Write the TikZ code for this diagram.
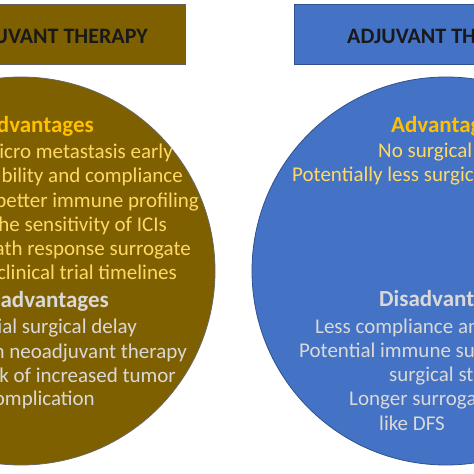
\documentclass[tikz,border=0pt]{standalone}
\usepackage{fontspec}
\setmainfont{Carlito}
\usepackage{xcolor}
\definecolor{neoBrown}{HTML}{7F6000}
\definecolor{adjBlue}{HTML}{4472C4}
\definecolor{adjLine}{HTML}{2F528F}
\definecolor{boxGrey}{HTML}{5F5F5F}
\definecolor{proGold}{HTML}{FFC000}
\definecolor{proText}{HTML}{FFD966}
\definecolor{conGrey}{HTML}{D9D9D9}

\begin{document}
\begin{tikzpicture}[x=1pt, y=-1pt,
        box/.style   = {rectangle, draw=#1, line width=0.8pt, minimum height=60pt, inner sep=0pt},
        disc/.style  = {circle, draw=#1, line width=0.8pt, minimum size=388pt, inner sep=0pt},
        title/.style = {font=\fontsize{22}{26}\selectfont\bfseries, text=black!90, inner sep=0pt},
        head/.style  = {font=\fontsize{23}{27}\selectfont\bfseries, inner sep=0pt},
        item/.style  = {font=\fontsize{21}{25}\selectfont, inner sep=0pt},
        pro/.style   = {text=proText},
        con/.style   = {text=conGrey}
    ]
        \useasboundingbox (0,0) rectangle (474,474);
        \clip (0,0) rectangle (474,474);
        \fill[white] (0,0) rectangle (474,474);

        % header boxes
        \node[box=boxGrey, fill=neoBrown, minimum width=240pt, anchor=north east] (neobox) at (186,4) {};
        \node[box=adjLine, fill=adjBlue, minimum width=240pt, anchor=north west] (adjbox) at (294,4) {};
        \node[title, anchor=base east] (neotitle) at (148,43) {NEOADJUVANT THERAPY};
        \node[title, anchor=base west] (adjtitle) at (347,43) {ADJUVANT THERAPY};

        % circles
        \node[disc=black!60, fill=neoBrown] (neocirc) at (21,271) {};
        \node[disc=adjLine, fill=adjBlue]  (adjcirc) at (446,271) {};

        % left circle, right ends of the lines
        \node[head, text=proGold, anchor=base east] (neopro) at (94,132) {Advantages};
        \node[item, pro, anchor=base east] (np1) at (173,158) {micro metastasis early};
        \node[item, pro, anchor=base east] (np2) at (183,182) {tolerability and compliance};
        \node[item, pro, anchor=base east] (np3) at (199,207) {better immune profiling};
        \node[item, pro, anchor=base east] (np4) at (167,231) {the sensitivity of ICIs};
        \node[item, pro, anchor=base east] (np5) at (191,255) {Path response surrogate};
        \node[item, pro, anchor=base east] (np6) at (177,279) {clinical trial timelines};
        \node[head, con, anchor=base east] (neocon) at (109,307) {Disadvantages};
        \node[item, con, anchor=base east] (nc1) at (137,333) {Potential surgical delay};
        \node[item, con, anchor=base east] (nc2) at (187,358) {on neoadjuvant therapy};
        \node[item, con, anchor=base east] (nc3) at (176,382) {Risk of increased tumor};
        \node[item, con, anchor=base east] (nc4) at (95,405) {complication};

        % right circle, left ends of the lines
        \node[head, text=proGold, anchor=base west] (adjpro) at (391,132) {Advantages};
        \node[item, pro, anchor=base west] (ap1) at (378,157) {No surgical delay};
        \node[item, pro, anchor=base west] (ap2) at (292,181) {Potentially less surgical};
        \node[head, con, anchor=base west] (adjcon) at (379,306) {Disadvantages};
        \node[item, con, anchor=base west] (ac1) at (315,333) {Less compliance and};
        \node[item, con, anchor=base west] (ac2) at (299,357) {Potential immune suppression};
        \node[item, con, anchor=base west] (ac3) at (389,381) {surgical stress};
        \node[item, con, anchor=base west] (ac4) at (349,405) {Longer surrogate};
        \node[item, con, anchor=base west] (ac5) at (379,430) {like DFS};
    \end{tikzpicture}
\end{document}
